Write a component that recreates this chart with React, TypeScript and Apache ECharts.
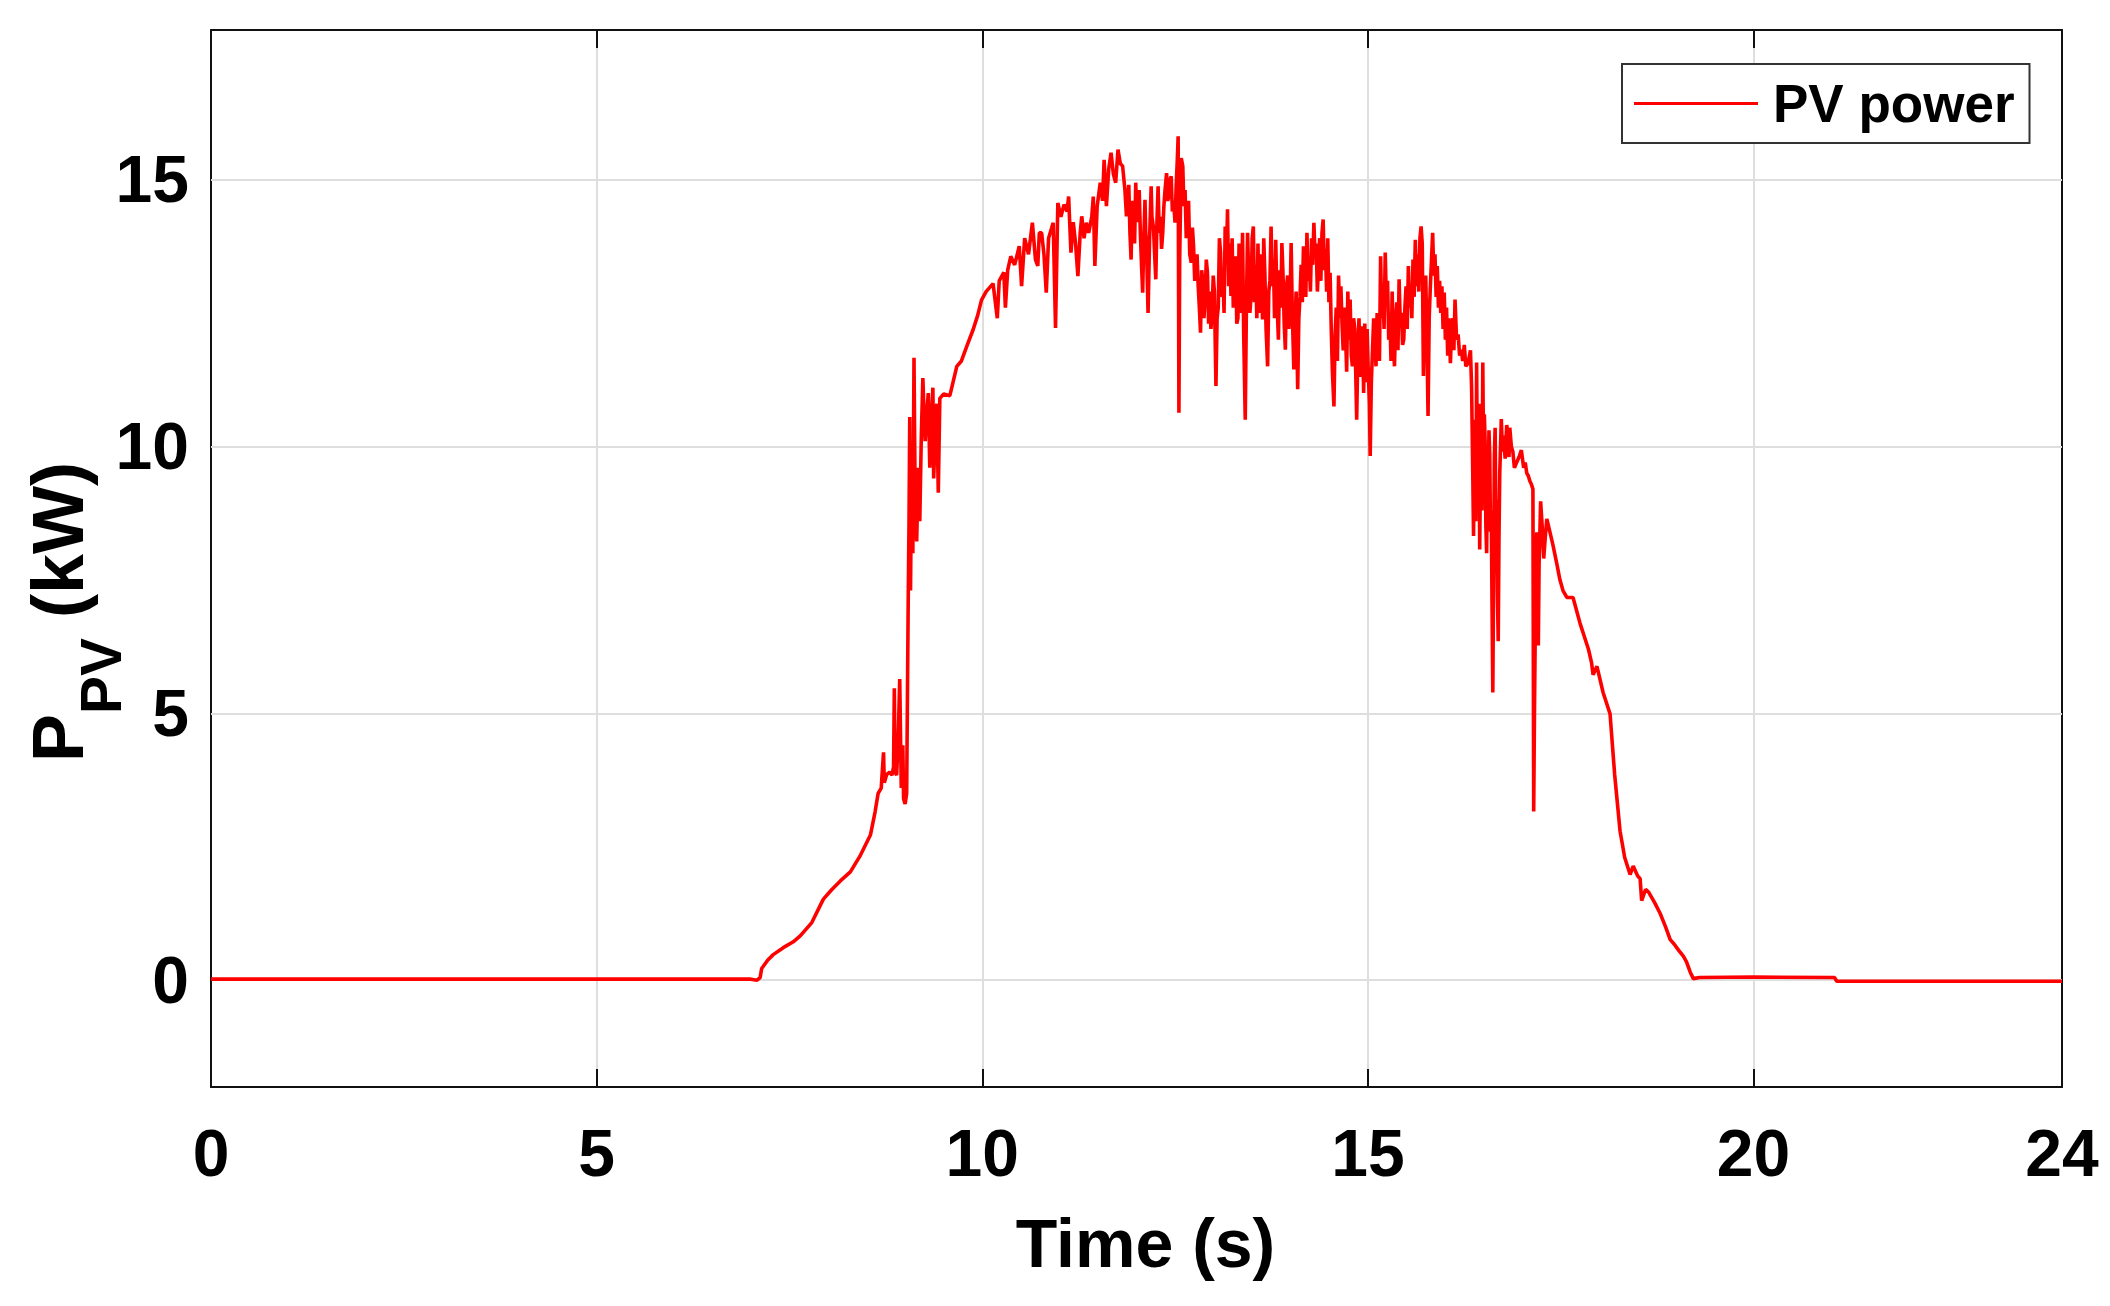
import React, { useEffect, useRef } from "react";
import * as echarts from "echarts";

const X_TICKS = [0, 5, 10, 15, 20, 24];
const Y_TICKS = [0, 5, 10, 15];
const X_MIN = 0;
const X_MAX = 24;
const Y_MIN = -2;
const Y_MAX = 17.8;
const SERIES_NAME = "PV power";

// [time, power (kW)]
const NIGHT_BEFORE = [
  [0, 0.02], [1, 0.02], [2, 0.02], [3, 0.02], [4, 0.02], [5, 0.02], [6, 0.02], [7, 0.02],
];

const RISE = [
  [7.08, 0.0], [7.12, 0.05], [7.14, 0.22], [7.22, 0.38], [7.29, 0.48], [7.42, 0.61], [7.55, 0.72],
  [7.64, 0.83], [7.79, 1.08], [7.94, 1.52], [8.05, 1.7], [8.16, 1.86], [8.29, 2.03], [8.42, 2.34],
  [8.55, 2.72], [8.61, 3.15], [8.65, 3.5], [8.69, 3.6], [8.72, 4.27], [8.73, 3.7], [8.76, 3.85],
  [8.8, 3.9], [8.83, 3.84], [8.85, 4.0], [8.86, 5.47], [8.87, 3.9], [8.89, 3.84], [8.91, 4.5],
  [8.93, 5.64], [8.95, 3.6], [8.97, 4.4], [8.98, 3.4], [9.0, 3.3], [9.02, 3.5], [9.04, 7.1],
  [9.05, 8.5], [9.06, 10.55], [9.07, 7.3], [9.08, 9.0], [9.1, 8.0], [9.115, 11.66], [9.13, 9.0],
  [9.15, 8.22], [9.17, 9.6], [9.19, 8.6], [9.21, 10.2], [9.23, 11.28], [9.25, 10.4], [9.26, 10.1],
  [9.28, 10.6], [9.3, 11.0], [9.32, 9.6], [9.34, 10.5], [9.36, 11.1], [9.37, 9.4], [9.39, 10.2],
  [9.41, 10.8], [9.43, 9.13], [9.45, 10.9], [9.5, 10.98], [9.58, 10.95], [9.67, 11.5], [9.73, 11.6],
  [9.8, 11.88], [9.88, 12.18], [9.94, 12.45], [9.99, 12.74], [10.05, 12.9], [10.14, 13.05],
];

const MIDDAY = [
  [10.195, 12.4], [10.22, 13.1], [10.28, 13.26], [10.3, 12.6], [10.33, 13.3], [10.37, 13.56],
  [10.42, 13.4], [10.48, 13.75], [10.51, 13.0], [10.55, 13.9], [10.6, 13.6], [10.65, 14.19],
  [10.69, 13.5], [10.72, 13.38], [10.74, 14.0], [10.77, 14.0], [10.8, 13.6], [10.83, 12.88],
  [10.86, 13.9], [10.92, 14.19], [10.95, 12.22], [10.98, 14.56], [11.02, 14.3], [11.06, 14.53],
  [11.1, 14.4], [11.12, 14.68], [11.15, 13.63], [11.18, 14.2], [11.21, 13.8], [11.24, 13.19],
  [11.27, 14.0], [11.29, 14.31], [11.32, 13.9], [11.35, 14.19], [11.38, 14.0], [11.42, 14.3],
  [11.44, 14.68], [11.46, 13.38], [11.49, 14.5], [11.53, 14.94], [11.56, 14.6], [11.58, 15.37],
  [11.61, 14.5], [11.64, 15.2], [11.67, 15.5], [11.7, 15.1], [11.73, 14.94], [11.76, 15.56],
  [11.79, 15.3], [11.82, 15.25], [11.85, 14.8], [11.87, 14.31], [11.9, 14.9], [11.915, 14.0],
  [11.93, 13.5], [11.945, 14.6], [11.96, 14.4], [11.975, 13.8], [11.99, 14.94], [12.0, 14.5],
  [12.02, 14.2], [12.035, 14.8], [12.05, 14.0], [12.065, 13.4], [12.08, 12.88], [12.095, 13.9],
  [12.11, 14.62], [12.12, 14.0], [12.13, 13.8], [12.14, 13.1], [12.15, 12.5], [12.17, 13.9],
  [12.19, 14.87], [12.2, 14.3], [12.22, 14.1], [12.235, 13.6], [12.25, 13.13], [12.265, 14.2],
  [12.28, 14.87], [12.295, 14.0], [12.31, 14.3], [12.325, 13.7], [12.34, 14.0], [12.355, 14.5],
  [12.37, 14.8], [12.39, 15.12], [12.405, 14.6], [12.42, 14.7], [12.435, 15.0], [12.45, 15.06],
  [12.465, 14.4], [12.48, 14.6], [12.5, 14.19], [12.515, 14.9], [12.53, 15.4], [12.54, 15.81],
  [12.55, 10.63],
];

const AFTERNOON = [
  [12.56, 13.5], [12.58, 15.4], [12.6, 15.25], [12.615, 14.5], [12.63, 14.8], [12.645, 13.9],
  [12.66, 14.19], [12.675, 14.6], [12.69, 13.6], [12.71, 13.44], [12.725, 14.1], [12.74, 13.75],
  [12.755, 13.1], [12.77, 13.4], [12.785, 13.6], [12.8, 13.0], [12.815, 12.6], [12.83, 12.13],
  [12.845, 13.3], [12.86, 13.1], [12.875, 12.4], [12.89, 12.8], [12.905, 13.5], [12.92, 13.25],
  [12.935, 12.3], [12.95, 12.9], [12.965, 12.2], [12.98, 12.5], [12.995, 13.2], [13.01, 12.9],
  [13.03, 11.13], [13.045, 12.4], [13.06, 12.6], [13.075, 13.9], [13.09, 13.63], [13.105, 12.8],
  [13.12, 13.3], [13.135, 12.5], [13.15, 14.12], [13.165, 13.4], [13.18, 14.44], [13.195, 13.0],
  [13.21, 13.8], [13.225, 12.82], [13.24, 13.9], [13.255, 12.6], [13.27, 13.3], [13.285, 13.56],
  [13.3, 12.3], [13.315, 12.4], [13.33, 13.8], [13.345, 13.2], [13.36, 12.5], [13.375, 14.0],
  [13.39, 12.1], [13.41, 10.5], [13.425, 12.6], [13.44, 14.0], [13.455, 13.2], [13.47, 12.5],
  [13.485, 12.8], [13.5, 13.9], [13.515, 14.12], [13.53, 12.7], [13.545, 13.4], [13.56, 12.4],
  [13.575, 13.8], [13.59, 12.5], [13.605, 13.6], [13.62, 12.9], [13.635, 12.38], [13.65, 13.9],
  [13.665, 13.2], [13.68, 12.2], [13.7, 11.5], [13.715, 12.9], [13.73, 13.1], [13.745, 14.12],
  [13.76, 13.0], [13.775, 13.5], [13.79, 12.4], [13.805, 13.87], [13.82, 12.8], [13.84, 12.0],
  [13.855, 13.3], [13.87, 12.6], [13.885, 13.81], [13.9, 13.2], [13.915, 12.3], [13.93, 11.81],
  [13.945, 13.0], [13.96, 13.2], [13.975, 12.2], [13.99, 12.6], [14.005, 13.81], [14.02, 12.5],
  [14.04, 11.44], [14.055, 12.3], [14.07, 12.9], [14.09, 11.07], [14.105, 12.4], [14.12, 12.8],
  [14.135, 13.4], [14.15, 12.7], [14.165, 13.75], [14.18, 13.2], [14.195, 12.8], [14.21, 14.0],
  [14.225, 13.1], [14.24, 13.5], [14.255, 12.9], [14.27, 13.9], [14.285, 13.4], [14.3, 14.19],
  [14.315, 13.6], [14.33, 13.8], [14.345, 12.9], [14.36, 13.38], [14.375, 13.9], [14.39, 13.1],
  [14.405, 14.0], [14.42, 14.25], [14.435, 13.3], [14.45, 13.69], [14.465, 12.9], [14.48, 13.9],
  [14.495, 12.7], [14.51, 13.25], [14.525, 12.2], [14.54, 11.4], [14.56, 10.75], [14.575, 12.1],
  [14.59, 12.6], [14.605, 11.6], [14.62, 13.2], [14.635, 12.4], [14.65, 13.0], [14.665, 12.3],
  [14.68, 11.8], [14.695, 12.6], [14.71, 12.13], [14.725, 11.4], [14.74, 12.9], [14.755, 12.0],
  [14.77, 12.75], [14.785, 11.7], [14.8, 11.5], [14.815, 12.4], [14.83, 12.2], [14.845, 11.2],
  [14.855, 10.5], [14.87, 11.8], [14.885, 12.4], [14.9, 11.3], [14.915, 11.9], [14.93, 12.25],
  [14.945, 11.0], [14.96, 12.3], [14.975, 11.2], [14.99, 12.2], [15.005, 11.4], [15.02, 10.8],
  [15.03, 9.82], [15.045, 11.2], [15.06, 11.8], [15.075, 12.4], [15.09, 12.13], [15.105, 11.5],
  [15.12, 12.5], [15.135, 12.0], [15.15, 11.6], [15.165, 13.56], [15.18, 12.4], [15.195, 12.9],
  [15.21, 12.2], [15.225, 13.63], [15.24, 12.7], [15.255, 13.1], [15.27, 12.0], [15.285, 12.44],
  [15.3, 11.6], [15.315, 12.9], [15.33, 11.9], [15.345, 11.5], [15.36, 12.4], [15.375, 12.7],
  [15.39, 11.8], [15.405, 13.13], [15.42, 12.3], [15.435, 12.5], [15.45, 11.9], [15.465, 12.0],
  [15.48, 12.6], [15.495, 13.0], [15.51, 12.2], [15.525, 13.38], [15.54, 12.6], [15.555, 13.0],
  [15.57, 12.4], [15.585, 13.5], [15.6, 12.8], [15.615, 13.87], [15.63, 13.0], [15.645, 13.6],
  [15.66, 12.9], [15.675, 13.9], [15.69, 14.12], [15.705, 13.8], [15.72, 11.32], [15.735, 12.6],
  [15.75, 13.2], [15.765, 12.1], [15.78, 10.57], [15.795, 12.4], [15.81, 13.0], [15.825, 13.5],
  [15.84, 14.0], [15.855, 13.2], [15.87, 13.6], [15.885, 12.8], [15.9, 13.38], [15.915, 12.6],
  [15.93, 13.1], [15.945, 12.5], [15.96, 13.0], [15.975, 12.2], [15.99, 12.88], [16.005, 12.0],
  [16.02, 12.6], [16.035, 11.7], [16.05, 12.4], [16.07, 11.56], [16.085, 12.2], [16.1, 12.4],
  [16.115, 11.8], [16.13, 12.75], [16.15, 12.0], [16.17, 12.1], [16.19, 11.7], [16.21, 11.81],
  [16.23, 11.6], [16.25, 11.9], [16.27, 11.5], [16.3, 11.56],
];

const FALL = [
  [16.33, 11.8], [16.345, 11.1], [16.36, 9.5], [16.37, 8.32], [16.38, 10.2], [16.39, 10.5],
  [16.4, 8.6], [16.41, 11.57], [16.42, 9.4], [16.43, 9.0], [16.44, 10.8], [16.45, 8.07],
  [16.46, 9.6], [16.47, 10.2], [16.48, 8.8], [16.49, 11.57], [16.5, 9.8], [16.51, 10.6],
  [16.52, 10.1], [16.53, 8.5], [16.54, 8.0], [16.55, 9.6], [16.56, 9.2], [16.57, 10.3],
  [16.58, 9.86], [16.59, 8.4], [16.6, 8.8], [16.61, 7.0], [16.62, 5.39], [16.63, 7.5],
  [16.64, 9.8], [16.65, 10.35], [16.66, 8.5], [16.67, 9.0], [16.68, 7.2], [16.69, 6.35],
  [16.7, 8.3], [16.71, 9.5], [16.72, 10.0], [16.73, 10.51], [16.745, 9.9], [16.76, 10.2],
  [16.78, 9.77], [16.8, 10.4], [16.81, 10.3], [16.83, 9.8], [16.84, 10.35], [16.86, 10.0],
  [16.88, 9.9], [16.9, 9.6], [16.93, 9.7], [16.96, 9.8], [16.99, 9.93], [17.02, 9.6],
  [17.04, 9.7], [17.06, 9.5], [17.08, 9.45], [17.1, 9.35], [17.12, 9.29], [17.14, 9.2],
  [17.15, 3.16], [17.16, 5.0], [17.17, 6.5], [17.18, 8.0], [17.19, 8.39], [17.2, 7.0],
  [17.21, 6.27], [17.22, 7.8], [17.24, 8.97], [17.26, 8.5], [17.28, 7.9], [17.3, 8.3],
  [17.32, 8.64], [17.36, 8.4], [17.4, 8.15], [17.45, 7.8], [17.49, 7.5], [17.53, 7.3],
  [17.58, 7.17], [17.66, 7.17], [17.75, 6.69], [17.86, 6.2], [17.9, 5.95], [17.92, 5.72],
  [17.97, 5.88], [18.05, 5.39], [18.14, 4.99], [18.2, 3.85], [18.27, 2.79], [18.33, 2.3],
  [18.4, 1.98], [18.44, 2.14], [18.5, 1.95], [18.53, 1.9], [18.55, 1.49], [18.6, 1.7],
  [18.64, 1.65], [18.72, 1.45], [18.79, 1.25], [18.86, 1.0], [18.92, 0.76], [18.97, 0.68],
  [19.03, 0.56], [19.09, 0.45], [19.13, 0.35], [19.18, 0.15], [19.22, 0.03],
];

const NIGHT_AFTER = [
  [19.3, 0.05], [20, 0.06], [21.05, 0.05], [21.08, -0.02], [22, -0.02], [24, -0.02],
];

const FONT = '"Liberation Sans", Arial, Helvetica, sans-serif';
const AXIS_COLOR = "#111111";
const GRID_COLOR = "#dedede";

export default function App() {
  const ref = useRef<HTMLDivElement>(null);

  useEffect(() => {
    document.body.style.margin = "0";
    if (!ref.current) return;
    const chart = echarts.init(ref.current, null, { renderer: "svg" });
    const data = [...NIGHT_BEFORE, ...RISE, ...MIDDAY, ...AFTERNOON, ...FALL, ...NIGHT_AFTER];

    const tickStyle = { inside: true, length: 18, lineStyle: { color: AXIS_COLOR, width: 2 } };
    const lineStyle = { show: true, onZero: false, lineStyle: { color: AXIS_COLOR, width: 2 } };

    chart.setOption({
      animation: false,
      backgroundColor: "#ffffff",
      grid: {
        left: 211,
        right: 48,
        top: 30,
        bottom: 219,
        containLabel: false,
        outerBoundsMode: "none",
      },
      legend: {
        data: [SERIES_NAME],
        left: 1622,
        top: 64,
        icon: "rect",
        itemWidth: 124,
        itemHeight: 3,
        padding: [13, 15, 13, 12],
        borderColor: "#333333",
        borderWidth: 2,
        backgroundColor: "#ffffff",
        selectedMode: false,
        textStyle: {
          fontFamily: FONT,
          fontSize: 53,
          fontWeight: "bold",
          color: "#000000",
          padding: [0, 0, 0, 10],
        },
      },
      xAxis: [
        {
          type: "value",
          position: "bottom",
          min: X_MIN,
          max: X_MAX,
          interval: 5,
          axisLine: lineStyle,
          axisTick: { ...tickStyle, customValues: X_TICKS },
          axisLabel: {
            customValues: X_TICKS,
            margin: 33,
            fontFamily: FONT,
            fontSize: 66,
            fontWeight: "bold",
            color: "#000000",
          },
          splitLine: { show: true, lineStyle: { color: GRID_COLOR, width: 2 } },
          name: "Time (s)",
          nameLocation: "middle",
          nameGap: 122,
          nameMoveOverlap: false,
          nameTextStyle: {
            fontFamily: FONT,
            fontSize: 68,
            fontWeight: "bold",
            color: "#000000",
            padding: [0, 0, 0, 18],
          },
        },
        {
          type: "value",
          position: "top",
          min: X_MIN,
          max: X_MAX,
          interval: 5,
          axisLine: lineStyle,
          axisTick: { ...tickStyle, customValues: X_TICKS },
          axisLabel: { show: false },
          splitLine: { show: false },
        },
      ],
      yAxis: [
        {
          type: "value",
          position: "left",
          min: Y_MIN,
          max: Y_MAX,
          axisLine: lineStyle,
          axisTick: { ...tickStyle, customValues: Y_TICKS },
          axisLabel: {
            customValues: Y_TICKS,
            margin: 22,
            fontFamily: FONT,
            fontSize: 66,
            fontWeight: "bold",
            color: "#000000",
          },
          splitLine: { show: false },
          name: "{p|P}{s|PV}{n| (kW)}",
          nameLocation: "middle",
          nameGap: 82,
          nameMoveOverlap: false,
          nameTextStyle: {
            fontFamily: FONT,
            fontSize: 72,
            fontWeight: "bold",
            color: "#000000",
            padding: [0, 107, 0, 0],
            rich: {
              p: {
                fontFamily: FONT,
                fontSize: 72,
                fontWeight: "bold",
                color: "#000000",
                verticalAlign: "top",
              },
              s: {
                fontFamily: FONT,
                fontSize: 57,
                fontWeight: "bold",
                color: "#000000",
                verticalAlign: "bottom",
                padding: [50, 0, 0, 0],
              },
              n: {
                fontFamily: FONT,
                fontSize: 72,
                fontWeight: "bold",
                color: "#000000",
                verticalAlign: "top",
              },
            },
          },
        },
        {
          type: "value",
          position: "right",
          min: Y_MIN,
          max: Y_MAX,
          axisLine: lineStyle,
          axisTick: { ...tickStyle, customValues: Y_TICKS },
          axisLabel: { show: false },
          splitLine: { show: false },
        },
      ],
      series: [
        {
          name: "grid",
          type: "line",
          xAxisIndex: 0,
          yAxisIndex: 0,
          data: [],
          z: 1,
          silent: true,
          markLine: {
            silent: true,
            z: 1,
            symbol: ["none", "none"],
            label: { show: false },
            lineStyle: { color: GRID_COLOR, width: 2, type: "solid" },
            data: Y_TICKS.map((v) => ({ yAxis: v })),
          },
        },
        {
          name: SERIES_NAME,
          type: "line",
          xAxisIndex: 0,
          yAxisIndex: 0,
          data,
          z: 3,
          color: "#ff0000",
          showSymbol: false,
          symbol: "none",
          lineStyle: { color: "#ff0000", width: 3.6 },
        },
      ],
    });

    return () => chart.dispose();
  }, []);

  return <div ref={ref} style={{ width: 2110, height: 1306 }} />;
}
